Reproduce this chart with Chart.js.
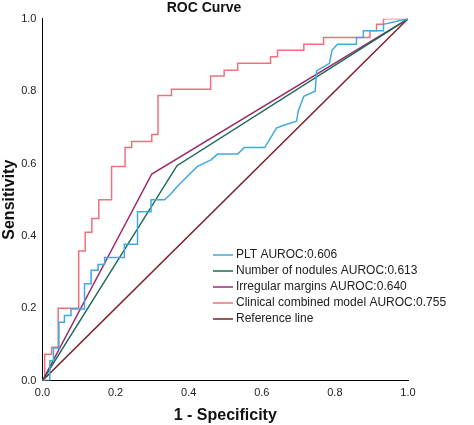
<!DOCTYPE html><html><head><meta charset="utf-8">
<script src="https://cdn.jsdelivr.net/npm/chart.js@4"></script>
<style>html,body{margin:0;background:#fff}#w{width:474px;height:425px}</style></head><body><div id="w"><canvas id="c"></canvas></div>
<script>
const pltX=[0,0.02,0.02,0.03,0.03,0.045,0.045,0.06,0.06,0.078,0.078,0.115,0.115,0.133,0.133,0.152,0.152,0.17,0.17,0.224,0.224,0.26,0.26,0.297,0.297,0.334,0.35,0.37,0.387,0.405,0.424,0.461,0.479,0.534,0.552,0.608,0.64,0.658,0.695,0.70,0.715,0.746,0.75,0.785,0.792,0.807,0.859,0.859,0.878,0.878,0.933,0.933,1];
const pltY=[0,0,0.055,0.055,0.09,0.09,0.161,0.161,0.18,0.18,0.198,0.198,0.268,0.268,0.305,0.305,0.321,0.321,0.34,0.34,0.377,0.377,0.467,0.467,0.5,0.5,0.515,0.538,0.555,0.573,0.592,0.61,0.626,0.626,0.644,0.644,0.698,0.705,0.717,0.746,0.786,0.8,0.856,0.877,0.913,0.93,0.93,0.948,0.948,0.967,0.967,0.985,1];
const nodX=[0,0.368,1], nodY=[0,0.594,1];
const irrX=[0,0.299,1], irrY=[0,0.571,1];
const cliX=[0,0.006,0.006,0.025,0.025,0.043,0.043,0.099,0.099,0.117,0.117,0.135,0.135,0.154,0.154,0.189,0.189,0.226,0.226,0.244,0.244,0.299,0.299,0.316,0.316,0.353,0.353,0.46,0.46,0.497,0.497,0.534,0.534,0.624,0.624,0.643,0.643,0.715,0.715,0.769,0.769,0.896,0.896,0.914,0.914,0.933,0.933,1];
const cliY=[0,0,0.073,0.073,0.092,0.092,0.2,0.2,0.358,0.358,0.41,0.41,0.448,0.448,0.5,0.5,0.592,0.592,0.644,0.644,0.661,0.661,0.68,0.68,0.788,0.788,0.805,0.805,0.842,0.842,0.858,0.858,0.877,0.877,0.895,0.895,0.913,0.913,0.93,0.93,0.948,0.948,0.967,0.967,0.985,0.985,1,1];
const refX=[0,1], refY=[0,1];
const names=['PLT AUROC:0.606','Number of nodules AUROC:0.613','Irregular margins AUROC:0.640','Clinical combined model AUROC:0.755','Reference line'];
const cols=['#3fa9e0','#1b6b58','#9a2a6c','#f2707c','#7a1f2b'];
const series=[[pltX,pltY],[nodX,nodY],[irrX,irrY],[cliX,cliY],[refX,refY]];
const pts=(xs,ys)=>xs.map((x,i)=>({x,y:ys[i]}));
const legendPlugin={id:'lg',afterDraw(ch){const c=ch.ctx;c.save();c.font='12px "Liberation Sans",Arial';c.textBaseline='middle';
names.forEach((n,i)=>{const y=255+i*16;c.strokeStyle=cols[i];c.lineWidth=1.5;c.beginPath();c.moveTo(213,y);c.lineTo(233,y);c.stroke();c.fillStyle='#222';c.fillText(n,236,y);});c.restore();}};
new Chart(document.getElementById('c'),{type:'scatter',
data:{datasets:series.map((s,i)=>({label:names[i],data:pts(s[0],s[1]),showLine:true,borderColor:cols[i],borderWidth:1.5,pointRadius:0,fill:false}))},
options:{responsive:true,maintainAspectRatio:false,animation:false,
layout:{padding:{right:66,top:0,left:0,bottom:0}},
plugins:{legend:{display:false},tooltip:{enabled:false},title:{display:true,text:'ROC Curve',color:'#111',font:{family:'Liberation Sans',size:14,weight:'bold'},padding:{top:0,bottom:2}}},
scales:{x:{type:'linear',min:0,max:1,grid:{display:false,drawTicks:true,tickLength:4},border:{color:'#000'},ticks:{stepSize:0.2,padding:2,color:'#222',font:{family:'Liberation Sans',size:11},callback:v=>v.toFixed(1)},title:{display:true,text:'1 - Specificity',color:'#111',font:{family:'Liberation Sans',size:16,weight:'bold'},padding:{top:4,bottom:0}}},
y:{min:0,max:1,grid:{display:false,tickLength:4},border:{color:'#000'},ticks:{stepSize:0.2,padding:2,color:'#222',font:{family:'Liberation Sans',size:11},callback:v=>v.toFixed(1)},title:{display:true,text:'Sensitivity',color:'#111',font:{family:'Liberation Sans',size:16,weight:'bold'},padding:{top:0,bottom:0}}}}},
plugins:[legendPlugin]});
</script></body></html>
